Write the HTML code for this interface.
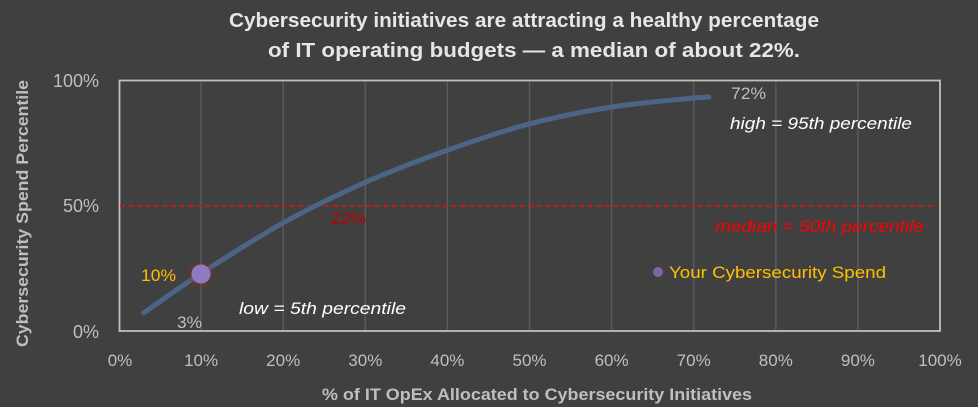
<!DOCTYPE html>
<html>
<head>
<meta charset="utf-8">
<style>
  html, body { margin:0; padding:0; background:#404040; }
  body { width:978px; height:407px; overflow:hidden; }
  svg { display:block; }
  text { font-family: "Liberation Sans", "DejaVu Sans", sans-serif; }
</style>
</head>
<body>
<svg width="978" height="407" viewBox="0 0 978 407" xmlns="http://www.w3.org/2000/svg">
  <defs>
    <radialGradient id="glow" cx="50%" cy="50%" r="50%">
      <stop offset="0%" stop-color="#c0392b" stop-opacity="0.85"/>
      <stop offset="55%" stop-color="#a03030" stop-opacity="0.5"/>
      <stop offset="100%" stop-color="#802020" stop-opacity="0"/>
    </radialGradient>
  </defs>
  <rect x="0" y="0" width="978" height="407" fill="#404040"/>

  <!-- Title -->
  <text x="229" y="27" font-size="20" font-weight="bold" fill="#e6e6e6" textLength="590" lengthAdjust="spacingAndGlyphs">Cybersecurity initiatives are attracting a healthy percentage</text>
  <text x="268" y="57" font-size="20" font-weight="bold" fill="#e6e6e6" textLength="532" lengthAdjust="spacingAndGlyphs">of IT operating budgets — a median of about 22%.</text>

  <!-- gridlines -->
  <g stroke="#5a5a5a" stroke-width="1.5">
    <line x1="201.1" y1="80" x2="201.1" y2="331"/>
    <line x1="283.2" y1="80" x2="283.2" y2="331"/>
    <line x1="365.3" y1="80" x2="365.3" y2="331"/>
    <line x1="447.4" y1="80" x2="447.4" y2="331"/>
    <line x1="529.5" y1="80" x2="529.5" y2="331"/>
    <line x1="611.6" y1="80" x2="611.6" y2="331"/>
    <line x1="693.7" y1="80" x2="693.7" y2="331"/>
    <line x1="775.8" y1="80" x2="775.8" y2="331"/>
    <line x1="857.9" y1="80" x2="857.9" y2="331"/>
  </g>

  <!-- plot border -->
  <rect x="119.5" y="80.5" width="820.5" height="250.5" fill="none" stroke="#bfbfbf" stroke-width="1.8"/>

  <!-- median dashed line -->
  <line x1="120" y1="206" x2="937" y2="206" stroke="#e01010" stroke-width="1.5" stroke-dasharray="5,3.5"/>

  <!-- curve -->
  <path d="M143.6,313 C153.2,306.4 177.8,288.5 201,273.5 C224.2,258.5 255.7,238.2 283,223 C310.3,207.8 337.5,194.7 365,182.5 C392.5,170.3 420.7,159.75 448,150 C475.3,140.25 501.7,131.2 529,124 C556.3,116.8 584.7,111.3 612,107 C639.3,102.7 676.8,99.7 693,98 C698.3,97.7 706,97.1 709,97"
        fill="none" stroke="#4c6586" stroke-width="5" stroke-linecap="round" stroke-linejoin="round"/>

  <!-- your spend point -->
  <circle cx="201" cy="274" r="15" fill="url(#glow)"/>
  <circle cx="201" cy="274" r="9.5" fill="#8e7cc3"/>

  <!-- y axis labels -->
  <g font-size="18" fill="#bfbfbf" text-anchor="end">
    <text x="99" y="87">100%</text>
    <text x="99" y="212">50%</text>
    <text x="99" y="338">0%</text>
  </g>

  <!-- x axis labels -->
  <g font-size="17" fill="#bfbfbf" text-anchor="middle">
    <text x="120" y="366">0%</text>
    <text x="201.1" y="366">10%</text>
    <text x="283.2" y="366">20%</text>
    <text x="365.3" y="366">30%</text>
    <text x="447.4" y="366">40%</text>
    <text x="529.5" y="366">50%</text>
    <text x="611.6" y="366">60%</text>
    <text x="693.7" y="366">70%</text>
    <text x="775.8" y="366">80%</text>
    <text x="857.9" y="366">90%</text>
    <text x="940" y="366">100%</text>
  </g>

  <!-- axis titles -->
  <text x="322" y="400" font-size="17" font-weight="bold" fill="#bfbfbf" textLength="430" lengthAdjust="spacingAndGlyphs">% of IT OpEx Allocated to Cybersecurity Initiatives</text>
  <text transform="translate(28,347) rotate(-90)" x="0" y="0" font-size="17" font-weight="bold" fill="#bfbfbf" textLength="267" lengthAdjust="spacingAndGlyphs">Cybersecurity Spend Percentile</text>

  <!-- annotations -->
  <text x="141" y="281" font-size="17" fill="#ffc000" textLength="35" lengthAdjust="spacingAndGlyphs">10%</text>
  <text x="177" y="328" font-size="17" fill="#bfbfbf" textLength="25" lengthAdjust="spacingAndGlyphs">3%</text>
  <text x="239" y="314" font-size="17" font-style="italic" fill="#ffffff" textLength="167" lengthAdjust="spacingAndGlyphs">low = 5th percentile</text>
  <text x="331" y="224" font-size="17" fill="#c00000" textLength="35" lengthAdjust="spacingAndGlyphs">22%</text>
  <text x="731" y="99" font-size="17" fill="#bfbfbf" textLength="35" lengthAdjust="spacingAndGlyphs">72%</text>
  <text x="730" y="129" font-size="17" font-style="italic" fill="#ffffff" textLength="182" lengthAdjust="spacingAndGlyphs">high = 95th percentile</text>
  <text x="715" y="232" font-size="17" font-style="italic" fill="#ff0000" textLength="209" lengthAdjust="spacingAndGlyphs">median = 50th percentile</text>

  <!-- legend -->
  <circle cx="658" cy="272" r="5" fill="#8064a2"/>
  <text x="669" y="278" font-size="17" fill="#ffc000" textLength="217" lengthAdjust="spacingAndGlyphs">Your Cybersecurity Spend</text>
</svg>
</body>
</html>
